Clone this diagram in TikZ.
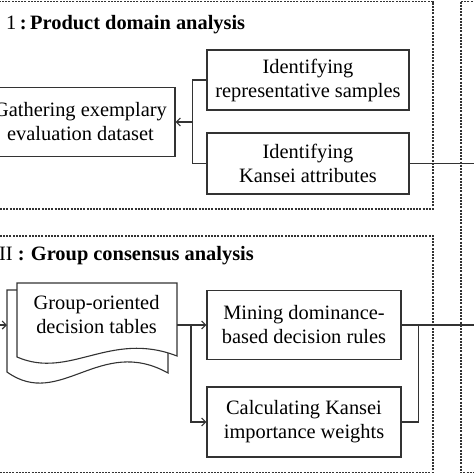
\documentclass[tikz,border=0pt]{standalone}
\usepackage{fontspec}
\setmainfont{Liberation Serif}
\usetikzlibrary{arrows.meta}
\definecolor{linec}{HTML}{333333}
\begin{document}
\begin{tikzpicture}[x=1pt,y=-1pt,
  box/.style={draw=linec, line width=1.2pt, fill=white, align=center, inner sep=0pt,
    font=\fontsize{20.4}{24}\selectfont},
  txt/.style={align=center, inner sep=0pt, font=\fontsize{20.4}{24}\selectfont},
  ttl/.style={anchor=base west, inner sep=0pt, font=\fontsize{20.4}{24}\selectfont},
  dashbox/.style={draw=linec, line width=1.6pt, dash pattern=on 2pt off 1.2pt},
  conn/.style={draw=linec, line width=1.1pt},
  arr/.style={conn, -{Straight Barb[length=4pt,width=8pt]}},
  docline/.style={draw=linec, line width=1.1pt, fill=white}]
\useasboundingbox (0,0) rectangle (474,474);
\clip (0,0) rectangle (474,474);
\fill[white] (0,0) rectangle (474,474);

% dashed frames
\draw[dashbox] (-10,1.5) rectangle (432.7,209);
\draw[dashbox] (-10,235.7) rectangle (432.7,472.5);
\draw[dashbox] (460.7,1.5) rectangle (490,472.5);

% titles
\node[ttl] (t1n) at (6,29) {1\,\textbf{:}};
\node[ttl] (t1) at (30,29) {\textbf{Product domain analysis}};
\node[ttl] (t2n) at (-1,260) {II \textbf{:}};
\node[ttl] (t2) at (30.7,260) {\textbf{Group consensus analysis}};

% part I nodes
\node[box, minimum width=189pt, minimum height=69pt] (gather) at (80.5,122) {Gathering exemplary\\evaluation dataset};
\node[box, minimum width=202pt, minimum height=60pt] (rep) at (308,80) {Identifying\\representative samples};
\node[box, minimum width=202pt, minimum height=61pt] (kan) at (308,163.5) {Identifying\\Kansei attributes};

\coordinate (brk) at (193,122);
\coordinate (outA) at (480,163.5);
\draw[conn] (kan.west) -- ++(-14,0) |- (rep.west);
\draw[arr] (brk) -- (gather.east);
\draw[conn] (kan.east) -- (outA);

% part II: document shape
\draw[docline] (7,290) -- (7,372) .. controls (60,410) and (100,335) .. (168,373) -- (168,290) -- cycle;
\draw[docline] (17,283) -- (17,357) .. controls (70,380) and (110,330) .. (177,356) -- (177,283) -- cycle;
\node[txt] (doc) at (96.6,314.5) {Group-oriented\\decision tables};

\node[box, minimum width=194pt, minimum height=69pt] (mining) at (304,325) {Mining dominance-\\based decision rules};
\node[box, minimum width=194pt, minimum height=70pt] (calc) at (304,422) {Calculating Kansei\\importance weights};

\coordinate (inB) at (-5,325);
\coordinate (docL) at (7,325);
\coordinate (docR) at (177,325);
\coordinate (split) at (191,325);
\coordinate (join) at (418.7,325);
\coordinate (outB) at (480,325);

\draw[arr] (inB) -- (docL);
\draw[arr] (docR) -- (mining.west);
\draw[arr] (split) |- (calc.west);
\draw[conn] (calc.east) -| (join);
\draw[conn] (mining.east) -- (outB);
\end{tikzpicture}
\end{document}
